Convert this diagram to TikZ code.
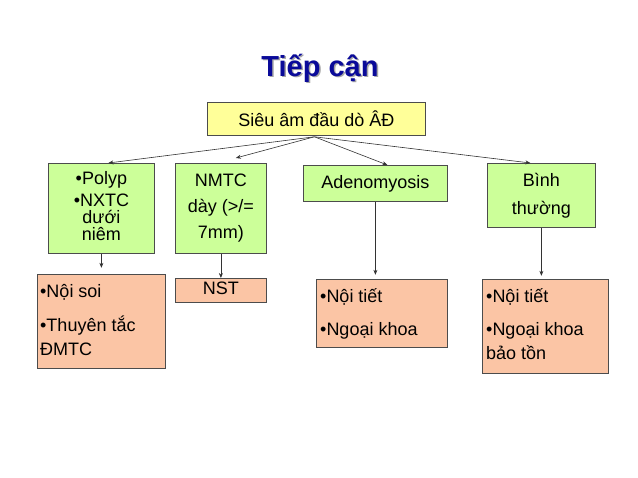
\documentclass[tikz,border=0pt]{standalone}
\usepackage{fontspec}
\setmainfont{Liberation Sans}
\usetikzlibrary{calc,arrows.meta}
\begin{document}
\begin{tikzpicture}[x=1pt,y=-1pt,
  bx/.style={draw=black!70,line width=0.8pt,inner sep=0pt,anchor=north west},
  gbox/.style={bx,fill=gcol},
  sbox/.style={bx,fill=scol},
  txt/.style={font=\fontsize{18}{21}\selectfont,align=center,inner sep=0pt},
  ltxt/.style={font=\fontsize{18}{21}\selectfont,align=left,inner sep=0pt,anchor=north west},
  arr/.style={-{Stealth[length=5pt,width=4pt]},line width=0.6pt,draw=black!80}]
\definecolor{gcol}{HTML}{CCFF99}
\definecolor{scol}{HTML}{FBC5A5}
\definecolor{ycol}{HTML}{FFFF99}
\definecolor{tcol}{HTML}{0A0A99}
\fill[white] (0,0) rectangle (638,478);
\useasboundingbox (0,0) rectangle (638,478);
\node[font=\bfseries\fontsize{29}{32}\selectfont,text=black!35] at (321.5,69.5) {Tiếp cận};
\node (title)[font=\bfseries\fontsize{29}{32}\selectfont,text=tcol] at (320,68) {Tiếp cận};
\node (top)[bx,fill=ycol,minimum width=218pt,minimum height=33pt] at (207,102) {};
\node[txt] at (top.center) {Siêu âm đầu dò ÂĐ};
\node (g1)[gbox,minimum width=106pt,minimum height=90pt] at (48,163) {};
\node[txt,text width=100pt,font=\fontsize{18}{17}\selectfont] at ($(g1.center)+(0,-2)$) {•Polyp\\[5pt]•NXTC\\dưới\\niêm};
\node (g2)[gbox,minimum width=91pt,minimum height=90pt] at (175,163) {};
\node[txt,font=\fontsize{18}{26}\selectfont] at (g2.center) {NMTC\\dày (>/=\\7mm)};
\node (g3)[gbox,minimum width=144pt,minimum height=36pt] at (303,165) {};
\node[txt] at (g3.center) {Adenomyosis};
\node (g4)[gbox,minimum width=108pt,minimum height=64pt] at (487,163) {};
\node[txt,font=\fontsize{18}{28}\selectfont] at (g4.center) {Bình\\thường};
\node (s1)[sbox,minimum width=128pt,minimum height=94pt] at (37,274) {};
\node[ltxt] at (40,284) {•Nội soi};
\node[ltxt,font=\fontsize{18}{24}\selectfont] at (40,316) {•Thuyên tắc\\ĐMTC};
\node (s2)[sbox,minimum width=91pt,minimum height=24pt] at (175,278) {};
\node[txt] at ($(s2.center)+(0,-2)$) {NST};
\node (s3)[sbox,minimum width=131pt,minimum height=68pt] at (316,279) {};
\node[ltxt] at (320,288) {•Nội tiết};
\node[ltxt] at (320,322) {•Ngoại khoa};
\node (s4)[sbox,minimum width=126pt,minimum height=94pt] at (482,279) {};
\node[ltxt] at (486,288) {•Nội tiết};
\node[ltxt,font=\fontsize{18}{24}\selectfont] at (486,322) {•Ngoại khoa\\bảo tồn};
\coordinate (o) at ($(top.south)+(-2,1)$);
\draw[arr] (o) -- ($(g1.north)+(7,0)$);
\draw[arr] (o) -- ($(g2.north)+(15,-5)$);
\draw[arr] (o) -- ($(g3.north)+(12,0)$);
\draw[arr] (o) -- ($(g4.north)+(-11,0)$);
\draw[arr] (g1.south) -- ++(0,14);
\draw[arr] (g2.south) -- (s2.north);
\draw[arr] (g3.south) -- ++(0,73);
\draw[arr] (g4.south) -- ++(0,48);
\end{tikzpicture}
\end{document}
